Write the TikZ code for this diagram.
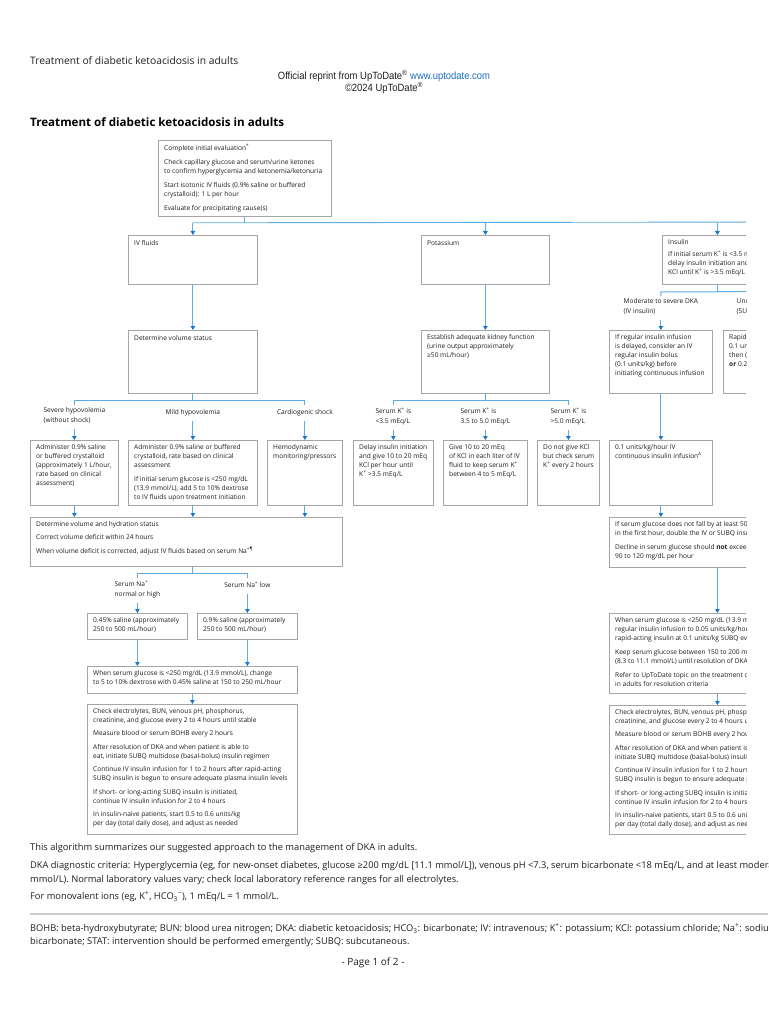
\documentclass[tikz,border=0pt]{standalone}
\usepackage{fontspec}
\setmainfont{Open Sans}
\newfontfamily\arialn[FakeStretch=0.9]{Liberation Sans}
\usetikzlibrary{arrows.meta, positioning}
\definecolor{lineblue}{RGB}{95,172,228}
\definecolor{tipblue}{RGB}{25,118,205}
\definecolor{boxgray}{RGB}{165,165,165}
\definecolor{inkgray}{RGB}{30,30,30}
\definecolor{linkblue}{RGB}{30,110,190}
\definecolor{rulegray}{RGB}{205,205,205}

\begin{document}
\begin{tikzpicture}[
        x=1pt, y=-1pt,
        box/.style={rectangle, draw=boxgray, line width=0.8pt, fill=white, anchor=north west, inner sep=0pt},
        boxtext/.style={anchor=north west, align=left, inner xsep=6pt, inner ysep=4pt, text=inkgray,
                        font=\fontsize{6.6}{9}\selectfont, execute at begin node=\strut},
        branch/.style={anchor=north, align=left, inner sep=0pt, outer sep=3pt, text=inkgray,
                       font=\fontsize{6.6}{10}\selectfont, execute at begin node=\strut, execute at end node=\strut},
        note/.style={anchor=west, inner sep=0pt, text=inkgray, font=\fontsize{9.3}{11}\selectfont},
        line/.style={draw=lineblue, line width=0.9pt},
        arrow/.style={line, -{Triangle[width=4.5pt, length=4pt, color=tipblue]}}
    ]
        \useasboundingbox (0,0) rectangle (768,1024);
        \fill[white] (0,0) rectangle (768,1024);

        \node[note, font=\fontsize{10.3}{12}\selectfont] (pagetitle) at (30,61) {Treatment of diabetic ketoacidosis in adults};
        \node[font=\arialn\fontsize{10.5}{12}\selectfont, text=inkgray] (reprint) at (384,76) {Official reprint from UpToDate\textsuperscript{®} \textcolor{linkblue}{www.uptodate.com}};
        \node[font=\arialn\fontsize{10.5}{12}\selectfont, text=inkgray] (copyright) at (384,88) {©2024 UpToDate\textsuperscript{®}};
        \node[note, font=\bfseries\fontsize{11.6}{14}\selectfont, text=black] (title) at (30,122) {Treatment of diabetic ketoacidosis in adults};

        \begin{scope}
        \clip (0,0) rectangle (746,1024);

        \node[box, minimum width=173pt, minimum height=76pt, label={[boxtext]north west:{Complete initial evaluation\textsuperscript{*}\\[5pt]
            Check capillary glucose and serum/urine ketones\\to confirm hyperglycemia and ketonemia/ketonuria\\[5pt]
            Start isotonic IV fluids (0.9\% saline or buffered\\crystalloid): 1 L per hour\\[5pt]
            Evaluate for precipitating cause(s)}}] (initeval) at (158,140) {};

        \node[box, minimum width=129pt, minimum height=49pt, label={[boxtext]north west:IV fluids}] (ivfluids) at (128,235) {};
        \node[box, minimum width=128pt, minimum height=49pt, label={[boxtext]north west:Potassium}] (potassium) at (421,235) {};
        \node[box, minimum width=110pt, minimum height=49pt, label={[boxtext]north west:{Insulin\\[3pt]If initial serum K\textsuperscript{+} is <3.5 mEq/L,\\delay insulin initiation and give\\KCl until K\textsuperscript{+} is >3.5 mEq/L}}] (insulin) at (662,235) {};

        \node[box, minimum width=129pt, minimum height=63pt, label={[boxtext]north west:Determine volume status}] (volstatus) at (128,330) {};
        \node[box, minimum width=128pt, minimum height=63pt, label={[boxtext]north west:{Establish adequate kidney function\\(urine output approximately\\≥50 mL/hour)}}] (kidney) at (421,330) {};
        \node[box, minimum width=103pt, minimum height=63pt, label={[boxtext]north west:{If regular insulin infusion\\is delayed, consider an IV\\regular insulin bolus\\(0.1 units/kg) before\\initiating continuous infusion}}] (bolus) at (609,330) {};
        \node[box, minimum width=103pt, minimum height=63pt, label={[boxtext]north west:{Rapid-acting insulin\\0.1 units/kg SUBQ,\\then (0.1 units/kg\\\textbf{or} 0.2 units/kg)}}] (rapid) at (723,330) {};

        \node[box, minimum width=88pt, minimum height=65pt, label={[boxtext]north west:{Administer 0.9\% saline\\or buffered crystalloid\\(approximately 1 L/hour,\\rate based on clinical\\assessment)}}] (sevbox) at (30,440) {};
        \node[box, minimum width=129pt, minimum height=65pt, label={[boxtext]north west:{Administer 0.9\% saline or buffered\\crystalloid, rate based on clinical\\assessment\\[5pt]If initial serum glucose is <250 mg/dL\\(13.9 mmol/L), add 5 to 10\% dextrose\\to IV fluids upon treatment initiation}}] (mildbox) at (128,440) {};
        \node[box, minimum width=75pt, minimum height=65pt, label={[boxtext]north west:{Hemodynamic\\monitoring/pressors}}] (cardbox) at (267,440) {};
        \node[box, minimum width=80pt, minimum height=65pt, label={[boxtext]north west:{Delay insulin initiation\\and give 10 to 20 mEq\\KCl per hour until\\K\textsuperscript{+} >3.5 mEq/L}}] (delaybox) at (353,440) {};
        \node[box, minimum width=84pt, minimum height=65pt, label={[boxtext]north west:{Give 10 to 20 mEq\\of KCl in each liter of IV\\fluid to keep serum K\textsuperscript{+}\\between 4 to 5 mEq/L}}] (givebox) at (443,440) {};
        \node[box, minimum width=62pt, minimum height=65pt, label={[boxtext]north west:{Do not give KCl\\but check serum\\K\textsuperscript{+} every 2 hours}}] (nokbox) at (537,440) {};
        \node[box, minimum width=103pt, minimum height=65pt, label={[boxtext]north west:{0.1 units/kg/hour IV\\continuous insulin infusion\textsuperscript{Δ}}}] (infusion) at (609,440) {};

        \node[box, minimum width=312pt, minimum height=49pt, label={[boxtext]north west:{Determine volume and hydration status\\[4.5pt]Correct volume deficit within 24 hours\\[4.5pt]When volume deficit is corrected, adjust IV fluids based on serum Na\textsuperscript{+¶}}}] (hydration) at (30,517) {};
        \node[box, minimum width=216pt, minimum height=50pt, label={[boxtext]north west:{If serum glucose does not fall by at least 50 mg/dL\\in the first hour, double the IV or SUBQ insulin dose\\[5pt]Decline in serum glucose should \textbf{not} exceed\\90 to 120 mg/dL per hour}}] (nofall) at (609,517) {};

        \node[box, minimum width=100pt, minimum height=26pt, label={[boxtext]north west:{0.45\% saline (approximately\\250 to 500 mL/hour)}}] (halfsal) at (87,613) {};
        \node[box, minimum width=100pt, minimum height=26pt, label={[boxtext]north west:{0.9\% saline (approximately\\250 to 500 mL/hour)}}] (normsal) at (197,613) {};
        \node[box, minimum width=216pt, minimum height=80pt, label={[boxtext]north west:{When serum glucose is <250 mg/dL (13.9 mmol/L), reduce\\regular insulin infusion to 0.05 units/kg/hour or give\\rapid-acting insulin at 0.1 units/kg SUBQ every hour\\[5pt]Keep serum glucose between 150 to 200 mg/dL\\(8.3 to 11.1 mmol/L) until resolution of DKA\\[5pt]Refer to UpToDate topic on the treatment of DKA\\in adults for resolution criteria}}] (whenglu) at (609,613) {};

        \node[box, minimum width=210pt, minimum height=27pt, label={[boxtext]north west:{When serum glucose is <250 mg/dL (13.9 mmol/L), change\\to 5 to 10\% dextrose with 0.45\% saline at 150 to 250 mL/hour}}] (dextrose) at (87,666) {};

        \node[box, minimum width=210pt, minimum height=130pt, label={[boxtext]north west:{Check electrolytes, BUN, venous pH, phosphorus,\\creatinine, and glucose every 2 to 4 hours until stable\\[4.5pt]
            Measure blood or serum BOHB every 2 hours\\[4.5pt]
            After resolution of DKA and when patient is able to\\eat, initiate SUBQ multidose (basal-bolus) insulin regimen\\[4.5pt]
            Continue IV insulin infusion for 1 to 2 hours after rapid-acting\\SUBQ insulin is begun to ensure adequate plasma insulin levels\\[4.5pt]
            If short- or long-acting SUBQ insulin is initiated,\\continue IV insulin infusion for 2 to 4 hours\\[4.5pt]
            In insulin-naive patients, start 0.5 to 0.6 units/kg\\per day (total daily dose), and adjust as needed}}] (monitorL) at (87,704) {};
        \node[box, minimum width=216pt, minimum height=129pt, label={[boxtext]north west:{Check electrolytes, BUN, venous pH, phosphorus,\\creatinine, and glucose every 2 to 4 hours until stable\\[4.5pt]
            Measure blood or serum BOHB every 2 hours\\[4.5pt]
            After resolution of DKA and when patient is able to eat,\\initiate SUBQ multidose (basal-bolus) insulin regimen\\[4.5pt]
            Continue IV insulin infusion for 1 to 2 hours after rapid-acting\\SUBQ insulin is begun to ensure adequate plasma insulin levels\\[4.5pt]
            If short- or long-acting SUBQ insulin is initiated,\\continue IV insulin infusion for 2 to 4 hours\\[4.5pt]
            In insulin-naive patients, start 0.5 to 0.6 units/kg\\per day (total daily dose), and adjust as needed}}] (monitorR) at (609,705) {};

        \coordinate (topbar) at ([yshift=-6pt]initeval.south);
        \coordinate (topbarend) at (800,222);
        \coordinate (vbar) at ([yshift=-7pt]volstatus.south);
        \coordinate (kbar) at ([yshift=-7pt]kidney.south);
        \coordinate (ibar) at ([yshift=-7pt]insulin.south);
        \coordinate (ibarend) at (800,291);
        \coordinate (nabar) at ([yshift=-7pt]hydration.south -| dextrose.north);

        \node[branch, yshift=-4pt] (sevlbl) at (sevbox.north |- vbar) {Severe hypovolemia\\(without shock)};
        \node[branch, yshift=-4pt] (mildlbl) at (mildbox.north |- vbar) {Mild hypovolemia};
        \node[branch, yshift=-4pt] (cardlbl) at (cardbox.north |- vbar) {Cardiogenic shock};
        \node[branch, yshift=-4pt] (klowlbl) at (delaybox.north |- kbar) {Serum K\textsuperscript{+} is\\<3.5 mEq/L};
        \node[branch, yshift=-4pt] (kmidlbl) at (givebox.north |- kbar) {Serum K\textsuperscript{+} is\\3.5 to 5.0 mEq/L};
        \node[branch, yshift=-4pt] (khighlbl) at (nokbox.north |- kbar) {Serum K\textsuperscript{+} is\\>5.0 mEq/L};
        \node[branch, yshift=-4pt] (ivinslbl) at (bolus.north |- ibar) {Moderate to severe DKA\\(IV insulin)};
        \node[branch, yshift=-4pt] (subqlbl) at (rapid.north |- ibar) {Uncomplicated mild DKA\\(SUBQ insulin)};
        \node[branch, yshift=-4pt] (nahighlbl) at (halfsal.north |- nabar) {Serum Na\textsuperscript{+}\\normal or high};
        \node[branch, yshift=-4pt] (nalowlbl) at (normsal.north |- nabar) {Serum Na\textsuperscript{+} low};

        \draw[line] (initeval) -- (topbar);
        \draw[line] (ivfluids.north |- topbar) -- (topbarend);
        \draw[arrow] (ivfluids.north |- topbar) -- (ivfluids);
        \draw[arrow] (potassium.north |- topbar) -- (potassium);
        \draw[arrow] (insulin.north |- topbar) -- (insulin);

        \draw[arrow] (ivfluids) -- (volstatus);
        \draw[line] (volstatus) -- (vbar);
        \draw[line] (sevlbl.north) |- (vbar) -| (cardlbl.north);
        \draw[arrow] (sevlbl.south) -- (sevbox.north);
        \draw[arrow] (mildlbl.south) -- (mildbox.north);
        \draw[arrow] (cardlbl.south) -- (cardbox.north);
        \draw[arrow] (sevbox.south) -- (sevbox.south |- hydration.north);
        \draw[arrow] (mildbox.south) -- (mildbox.south |- hydration.north);
        \draw[arrow] (cardbox.south) -- (cardbox.south |- hydration.north);

        \draw[line] (hydration.south -| nabar) -- (nabar);
        \draw[line] (nahighlbl.north) |- (nabar) -| (nalowlbl.north);
        \draw[arrow] (nahighlbl.south) -- (halfsal.north);
        \draw[arrow] (nalowlbl.south) -- (normsal.north);
        \draw[arrow] (halfsal.south) -- (halfsal.south |- dextrose.north);
        \draw[arrow] (normsal.south) -- (normsal.south |- dextrose.north);
        \draw[arrow] (dextrose) -- (monitorL);

        \draw[arrow] (potassium) -- (kidney);
        \draw[line] (kidney) -- (kbar);
        \draw[line] (klowlbl.north) |- (kbar) -| (khighlbl.north);
        \draw[arrow] (klowlbl.south) -- (delaybox.north);
        \draw[arrow] (kmidlbl.south) -- (givebox.north);
        \draw[arrow] (khighlbl.south) -- (nokbox.north);

        \draw[line] (insulin) -- (ibar);
        \draw[line] (ivinslbl.north) |- (ibar) -- (ibarend);
        \draw[line] (subqlbl.north) |- (ibar);
        \draw[arrow] (ivinslbl.south) -- (bolus.north);
        \draw[arrow] (subqlbl.south) -- (rapid.north);
        \draw[arrow] (bolus) -- (infusion);
        \draw[arrow] (infusion.south) -- (infusion.south |- nofall.north);
        \draw[arrow] (nofall) -- (whenglu);
        \draw[arrow] (whenglu) -- (monitorR);
        \end{scope}

        \node[note] (summary) at (30,848) {This algorithm summarizes our suggested approach to the management of DKA in adults.};
        \node[note] (criteria) at (30,866) {DKA diagnostic criteria: Hyperglycemia (eg, for new-onset diabetes, glucose ≥200 mg/dL [11.1 mmol/L]), venous pH <7.3, serum bicarbonate <18 mEq/L, and at least moderate ketonemia (BOHB ≥3.0};
        \node[note] (criteria2) at (30,880) {mmol/L). Normal laboratory values vary; check local laboratory reference ranges for all electrolytes.};
        \node[note] (ions) at (30,897) {For monovalent ions (eg, K\textsuperscript{+}, HCO\textsubscript{3}\textsuperscript{−}), 1 mEq/L = 1 mmol/L.};
        \draw[rulegray, line width=1.2pt] (30,914) -- (768,914);
        \node[note] (abbrev) at (30,929) {BOHB: beta-hydroxybutyrate; BUN: blood urea nitrogen; DKA: diabetic ketoacidosis; HCO\textsubscript{3}: bicarbonate; IV: intravenous; K\textsuperscript{+}: potassium; KCl: potassium chloride; Na\textsuperscript{+}: sodium; NaHCO\textsubscript{3}: sodium};
        \node[note] (abbrev2) at (30,942) {bicarbonate; STAT: intervention should be performed emergently; SUBQ: subcutaneous.};
        \node[font=\fontsize{10}{12}\selectfont, text=inkgray] (pagenum) at (373,963) {- Page 1 of 2 -};
    \end{tikzpicture}
\end{document}
